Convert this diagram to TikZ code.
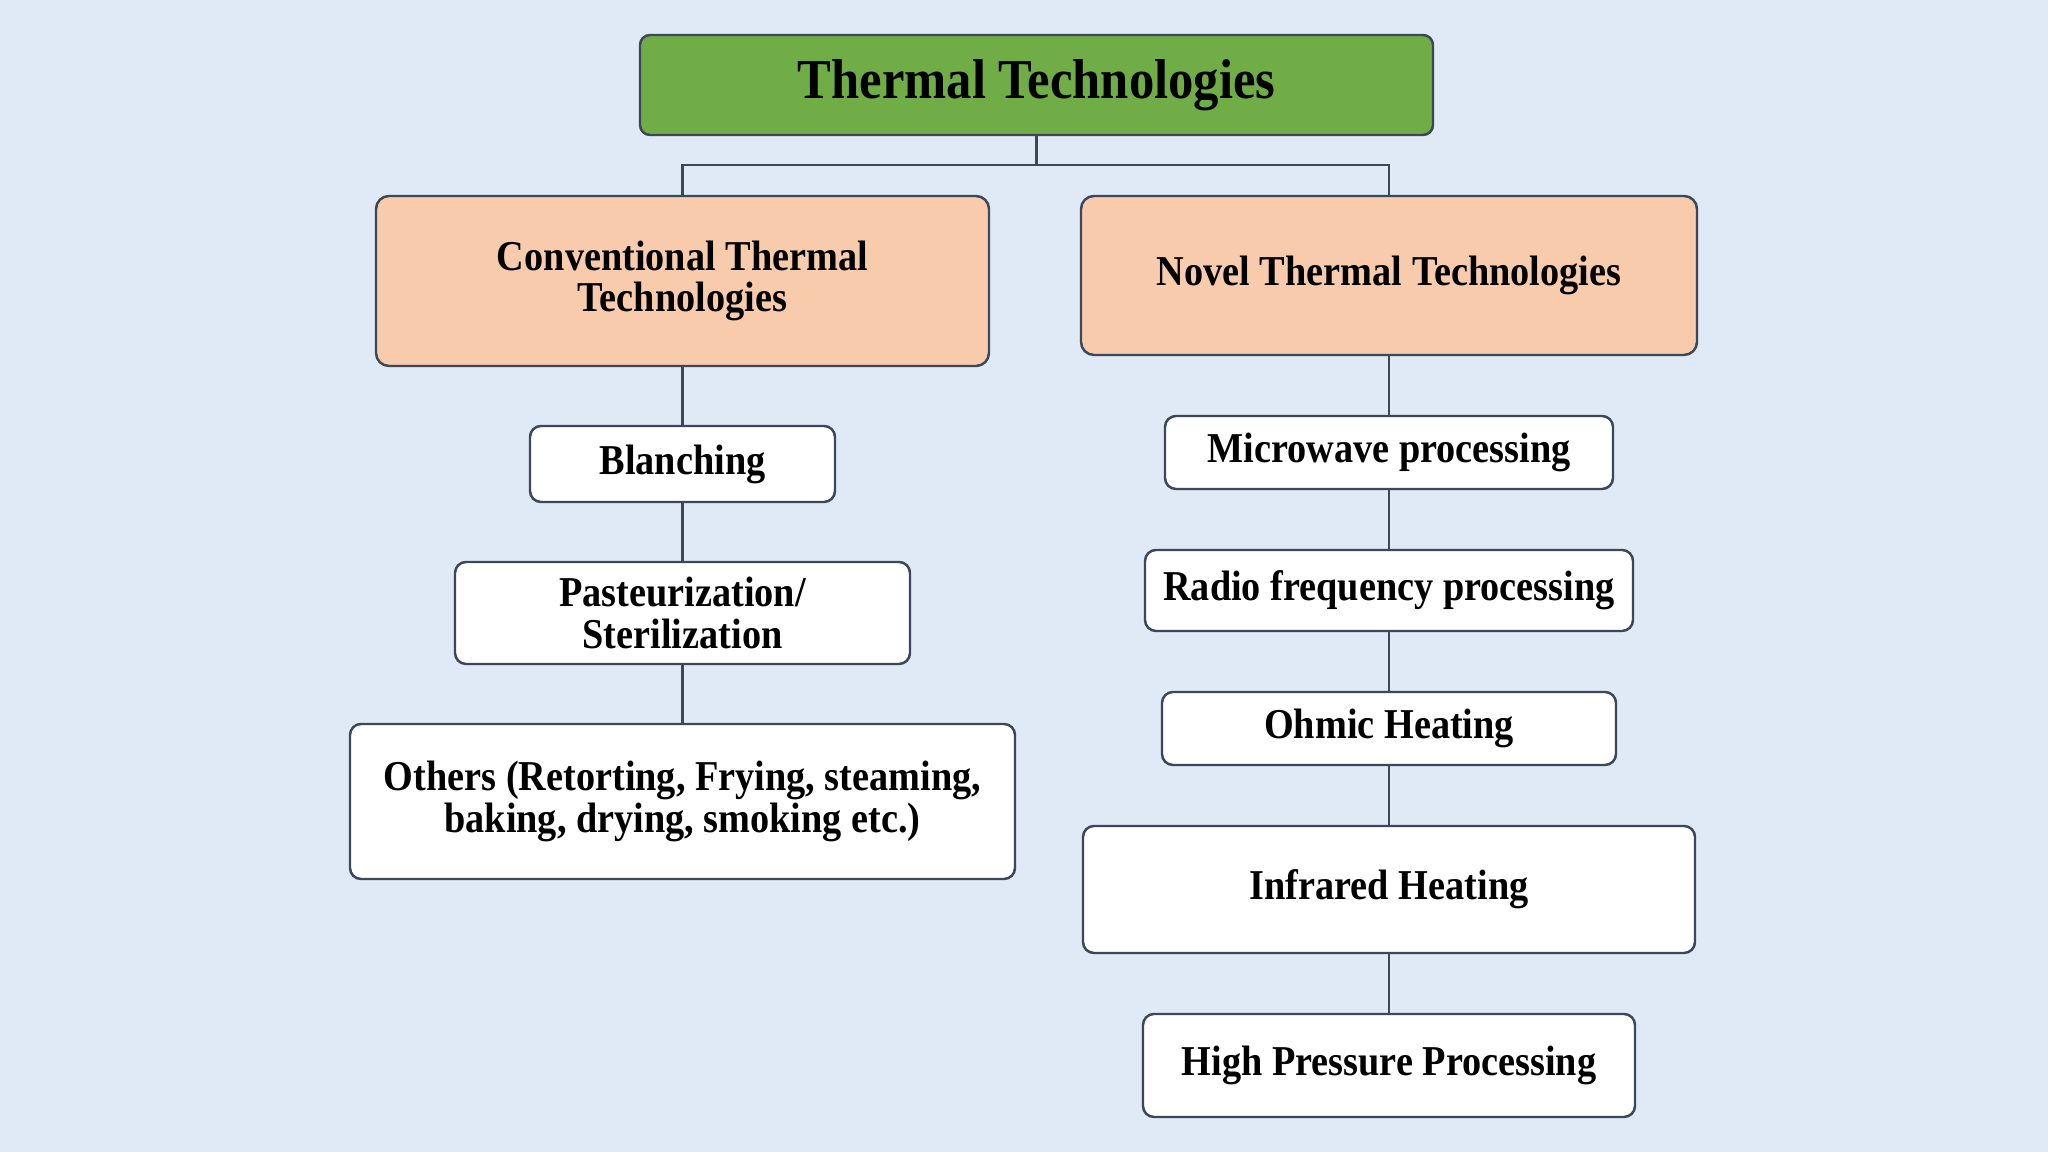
\documentclass[tikz,border=0pt]{standalone}
\usepackage{fontspec}
\setmainfont{Liberation Serif}[FakeStretch=0.9]
\usepackage{tikz}
\usetikzlibrary{positioning}
\definecolor{bgblue}{HTML}{DFEAF6}
\definecolor{rootgreen}{HTML}{70AD47}
\definecolor{catorange}{HTML}{F8CBAD}
\definecolor{edgegray}{HTML}{3C4757}

\begin{document}
\begin{tikzpicture}[
  node distance=0.61cm,
  root/.style={rectangle, draw=edgegray, line width=0.7pt, rounded corners=1mm,
    fill=rootgreen, align=center, inner sep=0pt, outer sep=0pt,
    font=\fontsize{16}{17}\selectfont\bfseries},
  cat/.style={rectangle, draw=edgegray, line width=0.7pt, rounded corners=1.3mm,
    fill=catorange, align=center, inner sep=0pt, outer sep=0pt,
    font=\fontsize{12.1}{11.9}\selectfont\bfseries},
  item/.style={rectangle, draw=edgegray, line width=0.7pt, rounded corners=1.1mm,
    fill=white, align=center, inner sep=0pt, outer sep=0pt,
    font=\fontsize{12.1}{11.9}\selectfont\bfseries},
  link/.style={draw=edgegray, line width=0.7pt}
]
\fill[bgblue] (0,0) rectangle (20.48,11.52);
\useasboundingbox (0,0) rectangle (20.48,11.52);

% Top
\node[root, minimum width=7.93cm, minimum height=1.0cm] (top) at (10.365,10.67) {Thermal Technologies};

% Split
\node[cat, anchor=north, minimum width=6.13cm, minimum height=1.70cm] (conv) at (6.825,9.56) {Conventional Thermal\\Technologies};
\node[cat, anchor=north, minimum width=6.16cm, minimum height=1.59cm] (novel) at (13.89,9.56) {Novel Thermal Technologies};

\coordinate (bar) at ([yshift=-0.3cm]top.south);
\draw[link] (top.south) -- (bar) -| (conv.north);
\draw[link] (bar) -| (novel.north);

% Conventional chain
\node[item, below=0.6cm of conv, minimum width=3.05cm, minimum height=0.76cm] (blanch) {Blanching};
\node[item, below=0.6cm of blanch, minimum width=4.55cm, minimum height=1.02cm] (pasteur) {Pasteurization/\\Sterilization};
\node[item, below=0.6cm of pasteur, minimum width=6.65cm, minimum height=1.55cm] (others) {Others (Retorting, Frying, steaming,\\baking, drying, smoking etc.)};

\draw[link] (conv) -- (blanch);
\draw[link] (blanch) -- (pasteur);
\draw[link] (pasteur) -- (others);

% Novel chain
\node[item, below=of novel, minimum width=4.48cm, minimum height=0.73cm] (micro) {Microwave processing};
\node[item, below=of micro, minimum width=4.88cm, minimum height=0.81cm] (radio) {Radio frequency processing};
\node[item, below=of radio, minimum width=4.54cm, minimum height=0.73cm] (ohmic) {Ohmic Heating};
\node[item, below=of ohmic, minimum width=6.12cm, minimum height=1.27cm] (infra) {Infrared Heating};
\node[item, below=of infra, minimum width=4.92cm, minimum height=1.03cm] (hpp) {High Pressure Processing};

\draw[link] (novel) -- (micro);
\draw[link] (micro) -- (radio);
\draw[link] (radio) -- (ohmic);
\draw[link] (ohmic) -- (infra);
\draw[link] (infra) -- (hpp);

\end{tikzpicture}
\end{document}
